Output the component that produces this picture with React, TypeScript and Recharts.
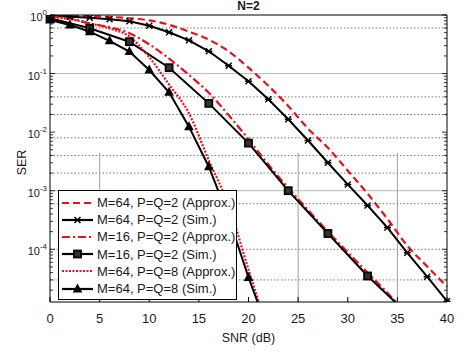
import React from 'react'
import { LineChart, Line, XAxis, YAxis, ReferenceLine, Legend } from 'recharts'

// SNR grids (dB) the curves were sampled on
const snrStep2 = [0, 2, 4, 6, 8, 10, 12, 14, 16, 18, 20, 22, 24, 26, 28, 30, 32, 34, 36, 38, 40]
const snrStep2To36 = [0, 2, 4, 6, 8, 10, 12, 14, 16, 18, 20, 22, 24, 26, 28, 30, 32, 34, 36]
const snrStep4 = [0, 4, 8, 12, 16, 20, 24, 28, 32, 36]
const snrStep2To22 = [0, 2, 4, 6, 8, 10, 12, 14, 16, 18, 20, 22]

// SER
const serM64P2Approx = [0.99, 0.98, 0.96, 0.93, 0.88, 0.81, 0.68, 0.52, 0.38, 0.24, 0.126, 0.062, 0.028, 0.0115, 0.0054, 0.0022, 8.9e-4, 3.3e-4, 1.15e-4, 5.1e-5, 2.3e-5]
const serM64P2Sim = [0.97, 0.935, 0.9, 0.845, 0.78, 0.656, 0.507, 0.37, 0.24, 0.136, 0.074, 0.0364, 0.0166, 0.0072, 0.003, 0.00128, 5.6e-4, 2.35e-4, 8.7e-5, 3.4e-5, 1.3e-5]
const serM16P2Approx = [0.955, 0.87, 0.72, 0.62, 0.49, 0.316, 0.18, 0.095, 0.047, 0.0195, 0.0076, 0.0028, 0.00112, 4.7e-4, 2.0e-4, 8.9e-5, 4.0e-5, 1.8e-5, 7.9e-6]
const serM16P2Sim = [0.88, 0.593, 0.35, 0.126, 0.031, 0.0065, 0.001, 1.86e-4, 3.5e-5, 8e-6]
const serM64P8Approx = [0.93, 0.85, 0.72, 0.59, 0.43, 0.19, 0.065, 0.021, 0.0033, 5.6e-4, 4.5e-5, 4e-6]
const serM64P8Sim = [0.82, 0.676, 0.52, 0.363, 0.237, 0.115, 0.048, 0.0124, 0.00257, 3.5e-4, 3.3e-5, 4e-6]

// axes and grid
const snrTicks = [0, 5, 10, 15, 20, 25, 30, 35, 40]
const serDecades = [1e-5, 1e-4, 1e-3, 1e-2, 1e-1, 1]
const minorSteps = [2, 3, 4, 5, 6, 7, 8, 9]
const gridDotted = [0.6, 0.04, 0.02, 0.008, 0.004, 0.002, 6e-4, 1e-4, 3e-5]
const gridSolid = [0.1, 0.001]
const gridVertical = [5, 25, 35]

const Y_MIN = Math.pow(10, -4.9)
const RED = '#e8101a'
const TEXT = '#1a1a1a'
const FONT = '"Liberation Sans", Arial, Helvetica, sans-serif'

const serTicks = serDecades
  .flatMap((d) => [d, ...minorSteps.map((m) => m * d)])
  .filter((v) => v >= Y_MIN && v <= 1)

const isDecade = (v: number) => Math.abs(Math.log10(v) - Math.round(Math.log10(v))) < 1e-9

const toPoints = (snr: number[], ser: number[]) => snr.map((x, i) => ({ snr: x, ser: ser[i] }))

type MarkerKind = 'star' | 'square' | 'triangle' | 'none'

function Marker({ kind, cx, cy }: { kind: MarkerKind; cx: number; cy: number }) {
  if (kind === 'star') {
    return (
      <g stroke="#000" strokeWidth={1.5}>
        <line x1={cx - 3} y1={cy - 3} x2={cx + 3} y2={cy + 3} />
        <line x1={cx - 3} y1={cy + 3} x2={cx + 3} y2={cy - 3} />
        <line x1={cx - 3.5} y1={cy} x2={cx + 3.5} y2={cy} />
      </g>
    )
  }
  if (kind === 'square') {
    return <rect x={cx - 3.5} y={cy - 3.5} width={7} height={7} fill="#333" stroke="#000" strokeWidth={1.8} />
  }
  if (kind === 'triangle') {
    return <polygon points={`${cx},${cy - 5.5} ${cx - 4.8},${cy + 3.5} ${cx + 4.8},${cy + 3.5}`} fill="#000" />
  }
  return null
}

const markerDot = (kind: MarkerKind) => (props: any) => {
  const { cx, cy, index, value } = props
  const v = Array.isArray(value) ? value[1] : value
  if (cx == null || cy == null || v < Y_MIN * 0.98) return <g key={`d-${index}`} />
  return (
    <g key={`d-${index}`}>
      <Marker kind={kind} cx={cx} cy={cy} />
    </g>
  )
}

const series = [
  { name: 'M=64, P=Q=2 (Approx.)', snr: snrStep2, ser: serM64P2Approx, color: RED, dash: '7 4', marker: 'none' as MarkerKind },
  { name: 'M=64, P=Q=2 (Sim.)', snr: snrStep2, ser: serM64P2Sim, color: '#000', dash: undefined, marker: 'star' as MarkerKind },
  { name: 'M=16, P=Q=2 (Approx.)', snr: snrStep2To36, ser: serM16P2Approx, color: RED, dash: '8 3 2 3', marker: 'none' as MarkerKind },
  { name: 'M=16, P=Q=2 (Sim.)', snr: snrStep4, ser: serM16P2Sim, color: '#000', dash: undefined, marker: 'square' as MarkerKind },
  { name: 'M=64, P=Q=8 (Approx.)', snr: snrStep2To22, ser: serM64P8Approx, color: RED, dash: '2 1.5', marker: 'none' as MarkerKind },
  { name: 'M=64, P=Q=8 (Sim.)', snr: snrStep2To22, ser: serM64P8Sim, color: '#000', dash: undefined, marker: 'triangle' as MarkerKind },
]

const BottomTick = ({ x, y, payload }: any) => (
  <g>
    <line x1={x} y1={y} x2={x} y2={y - 5} stroke="#000" />
    <text x={x} y={y + 21} textAnchor="middle" fontSize={13} fill={TEXT} fontFamily={FONT}>
      {payload.value}
    </text>
  </g>
)

const TopTick = ({ x, y }: any) => <line x1={x} y1={y} x2={x} y2={y + 5} stroke="#000" />

const LeftTick = ({ x, y, payload }: any) => {
  const v = payload.value as number
  const major = isDecade(v)
  return (
    <g>
      <line x1={x} y1={y} x2={x + (major ? 5 : 3)} y2={y} stroke="#000" strokeWidth={0.8} />
      {major && (
        <text x={x - 3} y={y + 6} textAnchor="end" fontSize={11} fill={TEXT} fontFamily={FONT}>
          10
          <tspan dy={-6} fontSize={8}>
            {Math.round(Math.log10(v))}
          </tspan>
        </text>
      )}
    </g>
  )
}

const RightTick = ({ x, y, payload }: any) => {
  const major = isDecade(payload.value)
  return <line x1={x} y1={y} x2={x - (major ? 5 : 3)} y2={y} stroke="#000" strokeWidth={0.8} />
}

const LegendBox = () => (
  <div
    style={{
      background: '#fff',
      border: '1px solid #000',
      padding: '3px 0 2px 0',
      fontFamily: FONT,
      fontSize: 13,
      color: TEXT,
      boxSizing: 'border-box',
      width: 179,
    }}
  >
    {series.map((s) => (
      <div key={s.name} style={{ display: 'flex', alignItems: 'center', height: 17.2, whiteSpace: 'nowrap' }}>
        <svg width={38} height={12} style={{ flex: 'none' }}>
          <line x1={3} y1={6} x2={34} y2={6} stroke={s.color} strokeWidth={2.2} strokeDasharray={s.dash} />
          <Marker kind={s.marker} cx={18.5} cy={6} />
        </svg>
        <span>{s.name}</span>
      </div>
    ))}
  </div>
)

export default function App() {
  return (
    <div style={{ position: 'absolute', left: 0, top: 0, width: 474, height: 360, background: '#fff' }}>
      <div
        style={{
          position: 'absolute',
          left: 0,
          width: 497,
          top: 0,
          lineHeight: '12px',
          textAlign: 'center',
          fontFamily: FONT,
          fontWeight: 'bold',
          fontSize: 12,
          color: TEXT,
        }}
      >
        N=2
      </div>
      <LineChart width={474} height={360} margin={{ top: 15, right: 27, bottom: 0, left: 0 }}>
        <XAxis
          dataKey="snr"
          type="number"
          domain={[0, 40]}
          ticks={snrTicks}
          interval={0}
          height={58}
          tickSize={0}
          tickMargin={0}
          tickLine={false}
          tick={BottomTick}
          axisLine={{ stroke: '#000' }}
          label={{
            content: ({ viewBox }: any) => (
              <text
                x={viewBox.x + viewBox.width / 2}
                y={viewBox.y + 40}
                textAnchor="middle"
                fontSize={12.5}
                fill={TEXT}
                fontFamily={FONT}
              >
                SNR (dB)
              </text>
            ),
          }}
        />
        <XAxis
          xAxisId="top"
          orientation="top"
          type="number"
          domain={[0, 40]}
          ticks={snrTicks}
          interval={0}
          mirror
          tickSize={0}
          tickMargin={0}
          tickLine={false}
          tick={TopTick}
          axisLine={{ stroke: '#000' }}
        />
        <YAxis
          scale="log"
          type="number"
          domain={[Y_MIN, 1]}
          allowDataOverflow
          ticks={serTicks}
          interval={0}
          width={50}
          tickSize={0}
          tickMargin={0}
          tickLine={false}
          tick={LeftTick}
          axisLine={{ stroke: '#000' }}
          label={{
            content: ({ viewBox }: any) => {
              const cx = viewBox.x + 22
              const cy = viewBox.y + viewBox.height / 2 + 4
              return (
                <text
                  x={cx}
                  y={cy}
                  transform={`rotate(-90 ${cx} ${cy})`}
                  textAnchor="middle"
                  dominantBaseline="central"
                  fontSize={12.5}
                  fill={TEXT}
                  fontFamily={FONT}
                >
                  SER
                </text>
              )
            },
          }}
        />
        <YAxis
          yAxisId="right"
          orientation="right"
          scale="log"
          type="number"
          domain={[Y_MIN, 1]}
          allowDataOverflow
          ticks={serTicks}
          interval={0}
          mirror
          tickSize={0}
          tickMargin={0}
          tickLine={false}
          tick={RightTick}
          axisLine={{ stroke: '#000' }}
        />

        {gridSolid.map((v) => (
          <ReferenceLine key={`gs-${v}`} y={v} stroke="#b8b8b8" strokeWidth={1} />
        ))}
        {gridDotted.map((v) => (
          <ReferenceLine key={`gd-${v}`} y={v} stroke="#777" strokeWidth={1} strokeDasharray="1.5 2" />
        ))}
        {gridVertical.map((v) => (
          <ReferenceLine
            key={`gv-${v}`}
            segment={[
              { x: v, y: 0.0044 },
              { x: v, y: Y_MIN },
            ]}
            stroke="#a0a0a0"
            strokeWidth={1}
          />
        ))}

        {series.map((s) => (
          <Line
            key={s.name}
            data={toPoints(s.snr, s.ser)}
            dataKey="ser"
            type={s.marker === 'none' ? 'monotone' : 'linear'}
            stroke={s.color}
            strokeWidth={s.marker === 'none' ? 2.2 : 2}
            strokeDasharray={s.dash}
            dot={s.marker === 'none' ? false : markerDot(s.marker)}
            activeDot={false}
            isAnimationActive={false}
          />
        ))}

        <Legend
          layout="vertical"
          align="center"
          verticalAlign="middle"
          content={() => <LegendBox />}
          wrapperStyle={{ left: 58, top: 190, width: 179 }}
        />
      </LineChart>
    </div>
  )
}
